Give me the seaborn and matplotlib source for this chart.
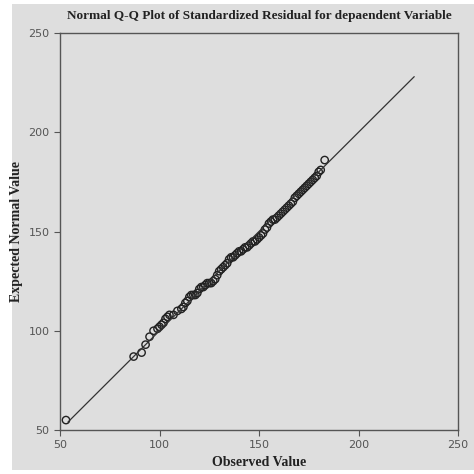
import matplotlib
matplotlib.use("Agg")
import matplotlib.pyplot as plt
import seaborn as sns
from matplotlib.patches import Rectangle

sns.set_style("white")
plt.rcParams['font.family'] = ['Liberation Serif', 'DejaVu Serif']

observed = [53, 87, 91, 93, 95, 97, 99, 100, 101, 102, 103, 104, 105, 107, 109, 111, 112, 113, 114, 115,
            116, 117, 118, 119, 120, 121, 122, 123, 124, 125, 126, 127, 128, 129, 130, 131, 132, 133, 134, 135,
            136, 137, 138, 139, 140, 141, 142, 143, 144, 145, 146, 147, 148, 149, 150, 151, 152, 153, 154, 155,
            156, 157, 158, 159, 160, 161, 162, 163, 164, 165, 166, 167, 168, 169, 170, 171, 172, 173, 174, 175,
            176, 177, 178, 179, 180, 181, 183]
expected = [55, 87, 89, 93, 97, 100, 101, 102, 103, 104, 106, 107, 108, 108, 110, 111, 112, 114, 115, 117,
            118, 118, 118, 119, 121, 122, 122, 123, 124, 124, 124, 125, 126, 128, 130, 131, 132, 133, 134, 136,
            137, 137, 138, 139, 140, 140, 141, 142, 142, 143, 144, 145, 145, 146, 147, 148, 149, 151, 152, 154,
            155, 156, 156, 157, 158, 159, 160, 161, 162, 163, 164, 165, 167, 168, 169, 170, 171, 172, 173, 174,
            175, 176, 177, 178, 180, 181, 186]
line_x = [54, 228]

fig = plt.figure(figsize=(4.74, 4.74), dpi=100, facecolor='white')
fig.patches.append(Rectangle((12/474, 4/474), 462/474, 466/474, transform=fig.transFigure,
                             facecolor='#dedede', edgecolor='none', zorder=-1))
ax = fig.add_axes([60/474, 1-430/474, 398/474, 397/474])
ax.set_facecolor('#dedede')
sns.lineplot(x=line_x, y=line_x, ax=ax, color='#333333', linewidth=0.9)
sns.scatterplot(x=observed, y=expected, ax=ax, facecolor='none', edgecolor='#222222',
                s=28, linewidth=1.0)
ax.set_xlim(50, 250)
ax.set_ylim(50, 250)
ax.set_xticks([50, 100, 150, 200, 250])
ax.set_yticks([50, 100, 150, 200, 250])
ax.tick_params(axis='both', labelsize=8, colors='#555555', length=4, direction='out',
               labelfontfamily='DejaVu Sans')
ax.tick_params(axis='both', which='both', left=True, bottom=True)
for s in ax.spines.values():
    s.set_color('#555555')
    s.set_linewidth(1.0)
ax.set_xlabel('Observed Value', fontsize=10, fontweight='bold', color='#222222')
ax.set_ylabel('Expected Normal Value', fontsize=10, fontweight='bold', color='#222222')
ax.set_title('Normal Q-Q Plot of Standardized Residual for depaendent Variable',
             fontsize=9.5, fontweight='bold', color='#222222', pad=10)
fig.savefig('out.png', dpi=100, facecolor='white')
